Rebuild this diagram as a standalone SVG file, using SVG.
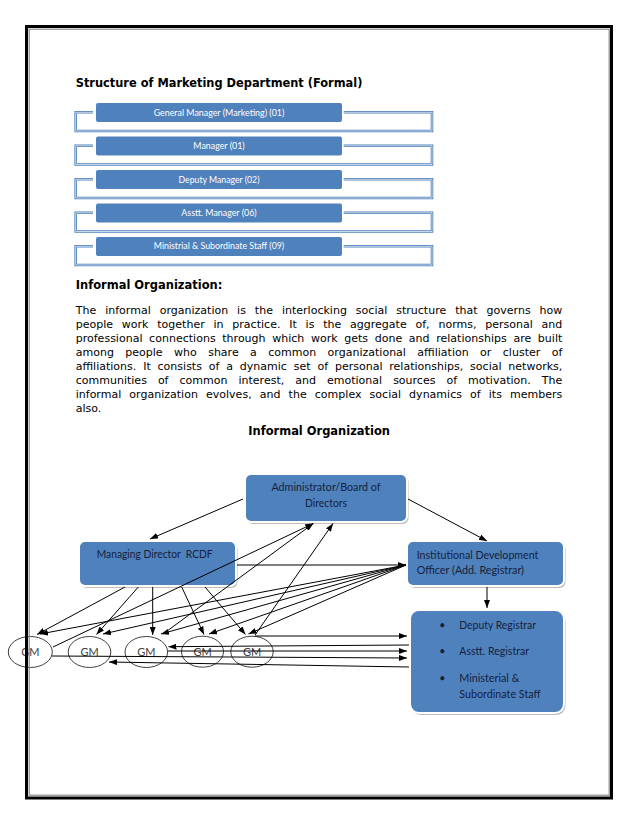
<svg xmlns="http://www.w3.org/2000/svg" width="638" height="826" viewBox="0 0 638 826">
<defs>
<style>
.fb{fill:#4f81bd}
.br{fill:none;stroke:#4f81bd;stroke-width:2.6}
.bri{fill:none;stroke:#e9eef6;stroke-width:0.8}
.ft{font-family:Lato,"Liberation Sans",sans-serif;font-size:8.5px;fill:#ffffff;text-anchor:middle}
.p{font-family:"DejaVu Sans",Verdana,sans-serif;font-size:11px;fill:#000}
.h{font-family:"DejaVu Sans",Verdana,sans-serif;font-size:11.5px;font-weight:bold;fill:#000}
.nb{fill:#4f81bd;stroke:#ffffff;stroke-width:2}
.sh{fill:#bdbdbd}
.nt{font-family:Lato,"Liberation Sans",sans-serif;font-size:10.5px;fill:#14213d}
.gm{fill:none;stroke:#404040;stroke-width:1}
.gt{font-family:Lato,"Liberation Sans",sans-serif;font-size:11px;fill:#404040;text-anchor:middle}
.c{stroke:#000;stroke-width:1;fill:none;marker-end:url(#ah)}
</style>
<marker id="ah" viewBox="0 0 8 6" refX="8" refY="3" markerWidth="8" markerHeight="6" markerUnits="userSpaceOnUse" orient="auto">
<path d="M0,0 L8,3 L0,6 z" fill="#000"/>
</marker>
</defs>
<rect width="638" height="826" fill="#ffffff"/>

<text class="h" x="75.7" y="86.5" textLength="286.7" lengthAdjust="spacingAndGlyphs">Structure of Marketing Department (Formal)</text>

<g id="formal-brackets">
<path class="br" d="M93,112.3 H75.7 V131 H432 V112.3 H343.7"/>
<path class="br" d="M93,145.8 H75.7 V164.5 H432 V145.8 H343.7"/>
<path class="br" d="M93,179.3 H75.7 V198 H432 V179.3 H343.7"/>
<path class="br" d="M93,212.8 H75.7 V231.5 H432 V212.8 H343.7"/>
<path class="br" d="M93,246.3 H75.7 V265 H432 V246.3 H343.7"/>
<path class="bri" d="M93,112.3 H75.7 V131 H432 V112.3 H343.7"/>
<path class="bri" d="M93,145.8 H75.7 V164.5 H432 V145.8 H343.7"/>
<path class="bri" d="M93,179.3 H75.7 V198 H432 V179.3 H343.7"/>
<path class="bri" d="M93,212.8 H75.7 V231.5 H432 V212.8 H343.7"/>
<path class="bri" d="M93,246.3 H75.7 V265 H432 V246.3 H343.7"/>
</g>
<g id="f-gm"><rect class="fb" x="96" y="103" width="246" height="19" rx="2"/><text class="ft" x="219" y="115.7" textLength="130.7" lengthAdjust="spacingAndGlyphs">General Manager (Marketing) (01)</text></g>
<g id="f-mgr"><rect class="fb" x="96" y="136.5" width="246" height="19" rx="2"/><text class="ft" x="219" y="149.3" textLength="51.3" lengthAdjust="spacingAndGlyphs">Manager (01)</text></g>
<g id="f-dm"><rect class="fb" x="96" y="170" width="246" height="19" rx="2"/><text class="ft" x="219" y="182.7" textLength="81" lengthAdjust="spacingAndGlyphs">Deputy Manager (02)</text></g>
<g id="f-am"><rect class="fb" x="96" y="203.5" width="246" height="19" rx="2"/><text class="ft" x="219" y="216" textLength="75.3" lengthAdjust="spacingAndGlyphs">Asstt. Manager (06)</text></g>
<g id="f-ms"><rect class="fb" x="96" y="237" width="246" height="19" rx="2"/><text class="ft" x="219" y="249.3" textLength="130.4" lengthAdjust="spacingAndGlyphs">Ministrial &amp; Subordinate Staff (09)</text></g>

<text class="h" x="75.7" y="289.3" textLength="146.7" lengthAdjust="spacingAndGlyphs">Informal Organization:</text>

<g id="paragraph">
<text class="p" x="75.7" y="314" word-spacing="5.45" textLength="486.6" lengthAdjust="spacing">The informal organization is the interlocking social structure that governs how</text>
<text class="p" x="75.7" y="328" word-spacing="5.3" textLength="486.6" lengthAdjust="spacing">people work together in practice. It is the aggregate of, norms, personal and</text>
<text class="p" x="75.7" y="342" word-spacing="3.1" textLength="486.6" lengthAdjust="spacing">professional connections through which work gets done and relationships are built</text>
<text class="p" x="75.7" y="356" word-spacing="7.9" textLength="486.6" lengthAdjust="spacing">among people who share a common organizational affiliation or cluster of</text>
<text class="p" x="75.7" y="370" word-spacing="3.35" textLength="486.6" lengthAdjust="spacing">affiliations. It consists of a dynamic set of personal relationships, social networks,</text>
<text class="p" x="75.7" y="384" word-spacing="7.5" textLength="486.6" lengthAdjust="spacing">communities of common interest, and emotional sources of motivation. The</text>
<text class="p" x="75.7" y="398" word-spacing="4.6" textLength="486.6" lengthAdjust="spacing">informal organization evolves, and the complex social dynamics of its members</text>
<text class="p" x="75.7" y="412">also.</text>
</g>

<text class="h" x="248.3" y="435" textLength="141.7" lengthAdjust="spacingAndGlyphs">Informal Organization</text>

<g id="n-admin">
<rect class="sh" x="246.5" y="476" width="162" height="48" rx="6"/>
<rect class="nb" x="245" y="474" width="162" height="48" rx="6"/>
<text class="nt" x="326" y="490.5" text-anchor="middle" textLength="109" lengthAdjust="spacingAndGlyphs">Administrator/Board of</text>
<text class="nt" x="326" y="507" text-anchor="middle" textLength="42" lengthAdjust="spacingAndGlyphs">Directors</text>
</g>
<g id="n-md">
<rect class="sh" x="80.5" y="543" width="157" height="45" rx="6"/>
<rect class="nb" x="79" y="541" width="157" height="45" rx="6"/>
<text class="nt" x="96.7" y="557.5" style="white-space:pre" textLength="116" lengthAdjust="spacingAndGlyphs">Managing Director  RCDF</text>
</g>
<g id="n-ido">
<rect class="sh" x="408.5" y="543" width="157" height="45" rx="6"/>
<rect class="nb" x="407" y="541" width="157" height="45" rx="6"/>
<text class="nt" x="416.7" y="558.5" textLength="121.7" lengthAdjust="spacingAndGlyphs">Institutional Development</text>
<text class="nt" x="416.7" y="574" textLength="107.3" lengthAdjust="spacingAndGlyphs">Officer (Add. Registrar)</text>
</g>
<g id="n-staff">
<rect class="sh" x="411.5" y="612" width="154" height="103" rx="9"/>
<rect class="nb" x="410" y="610" width="154" height="103" rx="9"/>
<text class="nt" x="442.3" y="628.5" text-anchor="middle">•</text>
<text class="nt" x="459.3" y="628.5" textLength="76.7" lengthAdjust="spacingAndGlyphs">Deputy Registrar</text>
<text class="nt" x="442.3" y="655" text-anchor="middle">•</text>
<text class="nt" x="459.3" y="655" textLength="69.7" lengthAdjust="spacingAndGlyphs">Asstt. Registrar</text>
<text class="nt" x="442.3" y="682" text-anchor="middle">•</text>
<text class="nt" x="459.3" y="682" textLength="60" lengthAdjust="spacingAndGlyphs">Ministerial &amp;</text>
<text class="nt" x="459.3" y="698" textLength="81.4" lengthAdjust="spacingAndGlyphs">Subordinate Staff</text>
</g>

<g id="n-gm1"><ellipse class="gm" cx="30.3" cy="652" rx="22" ry="15.5"/><text class="gt" x="30.3" y="656">GM</text></g>
<g id="n-gm2"><ellipse class="gm" cx="89.5" cy="652" rx="21.3" ry="15.5"/><text class="gt" x="89.5" y="656">GM</text></g>
<g id="n-gm3"><ellipse class="gm" cx="146.3" cy="652" rx="21.3" ry="15.5"/><text class="gt" x="146.3" y="656">GM</text></g>
<g id="n-gm4"><ellipse class="gm" cx="202.5" cy="651.7" rx="21" ry="15.5"/><text class="gt" x="202.5" y="656">GM</text></g>
<g id="n-gm5"><ellipse class="gm" cx="252" cy="651.7" rx="21.2" ry="15.5"/><text class="gt" x="252" y="656">GM</text></g>

<g id="connectors">
<line class="c" x1="243" y1="499" x2="150" y2="539"/>
<line class="c" x1="408" y1="499" x2="487" y2="541"/>
<line class="c" x1="487" y1="587" x2="487" y2="608"/>
<line class="c" x1="237" y1="565" x2="406" y2="565"/>
<line class="c" x1="125" y1="587" x2="37" y2="634.5"/>
<line class="c" x1="138.3" y1="587" x2="96.5" y2="634.5"/>
<line class="c" x1="152.7" y1="587" x2="152.7" y2="635"/>
<line class="c" x1="181.7" y1="587" x2="204" y2="634.5"/>
<line class="c" x1="205" y1="587" x2="245.5" y2="634.5"/>
<line class="c" x1="406" y1="565" x2="40" y2="634"/>
<line class="c" x1="406" y1="565" x2="103" y2="634"/>
<line class="c" x1="406" y1="565" x2="161" y2="634"/>
<line class="c" x1="406" y1="565" x2="209" y2="634"/>
<line class="c" x1="406" y1="565" x2="248.5" y2="634"/>
<line class="c" x1="53" y1="647" x2="313.3" y2="523.5"/>
<line class="c" x1="163" y1="634" x2="313.3" y2="523.5"/>
<line class="c" x1="255" y1="635" x2="333" y2="523.5"/>
<line class="c" x1="255" y1="636" x2="407" y2="636"/>
<line class="c" x1="409" y1="645" x2="168.5" y2="646.7"/>
<line class="c" x1="168" y1="651" x2="407" y2="651"/>
<line class="c" x1="52" y1="656" x2="407" y2="658"/>
<line class="c" x1="409" y1="667" x2="109" y2="662"/>
</g>

<g id="page-border">
<rect x="26.5" y="26.5" width="585" height="771.5" fill="none" stroke="#000" stroke-width="3"/>
<rect x="29.2" y="29.2" width="580" height="766" fill="none" stroke="#8a8a8a" stroke-width="1.2"/>
</g>
</svg>
